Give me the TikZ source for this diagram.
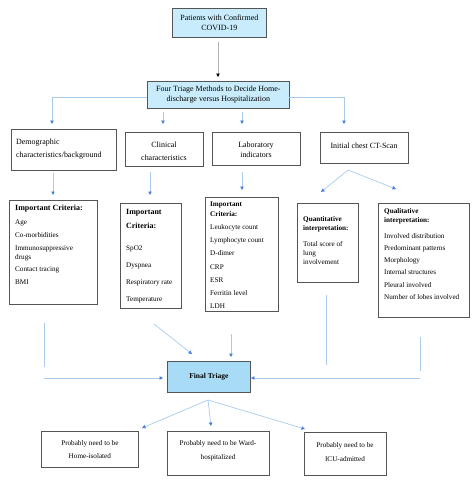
\documentclass[tikz,border=0pt]{standalone}
\usepackage{fontspec}
\setmainfont{Liberation Serif}
\usetikzlibrary{arrows.meta}
\definecolor{headfill}{HTML}{C8ECFB}
\definecolor{finalfill}{HTML}{A8DCF6}
\definecolor{lineblue}{HTML}{A9CBEB}
\definecolor{tipblue}{HTML}{4A80D8}
\definecolor{boxline}{HTML}{555555}
\newcommand{\bigf}{\fontsize{8}{10}\selectfont}
\tikzset{
  box/.style={draw=boxline, line width=0.7pt, fill=white, inner sep=0pt, anchor=north west},
  hbox/.style={box, fill=headfill},
  fbox/.style={box, fill=finalfill},
  txt/.style={inner sep=0pt, font=\fontsize{7.2}{9}\selectfont},
  btxt/.style={inner sep=0pt, font=\fontsize{8}{10}\selectfont},
  ltxt/.style={txt, anchor=north west, align=left},
  ctxt/.style={txt, align=center},
  cbtxt/.style={btxt, align=center},
  link/.style={draw=lineblue, line width=0.7pt},
  arr/.style={link, -{Triangle[length=3.5pt,width=3.5pt,color=tipblue]}},
  blackarr/.style={draw=black!30, line width=0.6pt, -{Triangle[length=3.5pt,width=3.5pt,color=black]}}
}
\begin{document}
\begin{tikzpicture}[x=1bp,y=-1bp]
\useasboundingbox (0,0) rectangle (474,485);
% top
\node[hbox, minimum width=94bp, minimum height=29bp] (top) at (172,8) {};
\node[cbtxt] (toptxt) at (top.center) {Patients with Confirmed\\COVID-19};
\node[hbox, minimum width=142bp, minimum height=27bp] (four) at (147,81) {};
\node[cbtxt] (fourtxt) at (four.center) {Four Triage Methods to Decide Home-\\discharge versus Hospitalization};
\draw[blackarr] (218,42) coordinate (a0) -- (218,77) coordinate (a1);
% branches
\coordinate (fl) at (147,97);
\coordinate (fr) at (289,97);
\coordinate (c1) at (52,97);
\coordinate (c4) at (344,97);
\coordinate (e1) at (52,124);
\coordinate (e4) at (344,124);
\draw[link] (fl) -- (c1);
\draw[arr] (c1) -- (e1);
\draw[link] (fr) -- (c4);
\draw[arr] (c4) -- (e4);
\coordinate (s2) at (163,112); \coordinate (e2) at (163,124);
\coordinate (s3) at (242,112); \coordinate (e3) at (242,124);
\draw[arr] (s2) -- (e2);
\draw[arr] (s3) -- (e3);
% row 1
\node[box, minimum width=105bp, minimum height=41bp] (demo) at (11,129) {};
\node[btxt, anchor=north west, align=left] (demotxt) at (16,139) {Demographic\\[3bp]characteristics/background};
\node[box, minimum width=78bp, minimum height=34bp] (clin) at (125,132) {};
\node[cbtxt] (clintxt) at (164,151) {Clinical\\[3bp]characteristics};
\node[box, minimum width=88bp, minimum height=33bp] (lab) at (212,132) {};
\node[cbtxt] (labtxt) at (256,150) {Laboratory\\indicators};
\node[box, minimum width=88bp, minimum height=31bp] (ct) at (320,132) {};
\node[cbtxt] (cttxt) at (364,145.5) {Initial chest CT-Scan};
% row 1 -> row 2 arrows
\coordinate (d1) at (53,173); \coordinate (d2) at (53,195);
\coordinate (k1) at (150,172); \coordinate (k2) at (150,195);
\coordinate (l1) at (242,172); \coordinate (l2) at (242,190);
\coordinate (t0) at (348,170); \coordinate (t1) at (321,192); \coordinate (t2) at (396,189);
\draw[arr] (d1) -- (d2);
\draw[arr] (k1) -- (k2);
\draw[arr] (l1) -- (l2);
\draw[arr] (t0) -- (t1);
\draw[arr] (t0) -- (t2);
% row 2
\node[box, minimum width=88bp, minimum height=104bp] (b1) at (9,200) {};
\node[ltxt] (b1txt) at (15,205) {{\bigf\textbf{Important Criteria:}}\\[5bp]Age\\[4bp]Co-morbidities\\[4bp]Immunosuppressive\\drugs\\[3bp]Contact tracing\\[4bp]BMI};
\node[box, minimum width=61bp, minimum height=105bp] (b2) at (120,203) {};
\node[ltxt] (b2txt) at (126,209) {{\bigf\textbf{Important}}\\[5bp]{\bigf\textbf{Criteria:}}\\[13bp]SpO2\\[8bp]Dyspnea\\[8bp]Respiratory rate\\[8bp]Temperature};
\node[box, minimum width=73bp, minimum height=114bp] (b3) at (205,197) {};
\node[ltxt] (b3txt) at (210,201.5) {\textbf{Important}\\[1bp]\textbf{Criteria:}\\[4bp]Leukocyte count\\[4.3bp]Lymphocyte count\\[4.3bp]D-dimer\\[4.3bp]CRP\\[4.3bp]ESR\\[4.3bp]Ferritin level\\[4.3bp]LDH};
\node[box, minimum width=61bp, minimum height=79bp] (b4) at (297,203) {};
\node[ltxt] (b4txt) at (303,216.5) {\textbf{Quantitative}\\\textbf{interpretation:}\\[7bp]Total score of\\lung\\involvement};
\node[box, minimum width=91bp, minimum height=114bp] (b5) at (378,203) {};
\node[ltxt] (b5txt) at (384,208.5) {\textbf{Qualitative}\\\textbf{interpretation:}\\[7bp]Involved distribution\\[3bp]Predominant patterns\\[3bp]Morphology\\[3bp]Internal structures\\[4bp]Pleural involved\\[3bp]Number of lobes involved};
% final triage
\node[fbox, minimum width=83bp, minimum height=31bp] (final) at (167,361) {};
\node[txt, font=\fontsize{7.5}{9}\selectfont] (finaltxt) at (final.center) {\textbf{Final Triage}};
\coordinate (g1) at (44,323); \coordinate (g2) at (44,367);
\coordinate (h1) at (44,378); \coordinate (h2) at (163,378);
\draw[link] (g1) -- (g2);
\draw[arr] (h1) -- (h2);
\coordinate (q1) at (154,324); \coordinate (q2) at (192,354);
\draw[arr] (q1) -- (q2);
\coordinate (v1) at (231,334); \coordinate (v2) at (231,357);
\draw[arr] (v1) -- (v2);
\coordinate (r1) at (326,295); \coordinate (r2) at (326,365);
\coordinate (r3) at (420,337); \coordinate (r4) at (420,371);
\coordinate (r5) at (420,378); \coordinate (r6) at (251,378);
\draw[link] (r1) -- (r2);
\draw[link] (r3) -- (r4);
\draw[arr] (r5) -- (r6);
% bottom
\coordinate (m0) at (208,400);
\coordinate (m1) at (142,428);
\coordinate (m2) at (211,426);
\coordinate (m3) at (305,429);
\draw[arr] (m0) -- (m1);
\draw[arr] (m0) -- (m2);
\draw[arr] (m0) -- (m3);
\node[box, minimum width=97bp, minimum height=36bp] (home) at (41,431) {};
\node[ctxt] (hometxt) at (home.center) {Probably need to be\\[4bp]Home-isolated};
\node[box, minimum width=102bp, minimum height=44bp] (ward) at (167,431) {};
\node[ctxt] (wardtxt) at (218,451) {Probably need to be Ward-\\[5bp]hospitalized};
\node[box, minimum width=82bp, minimum height=43bp] (icu) at (304,432) {};
\node[ctxt] (icutxt) at (345,452) {Probably need to be\\[5bp]ICU-admitted};
\end{tikzpicture}
\end{document}
